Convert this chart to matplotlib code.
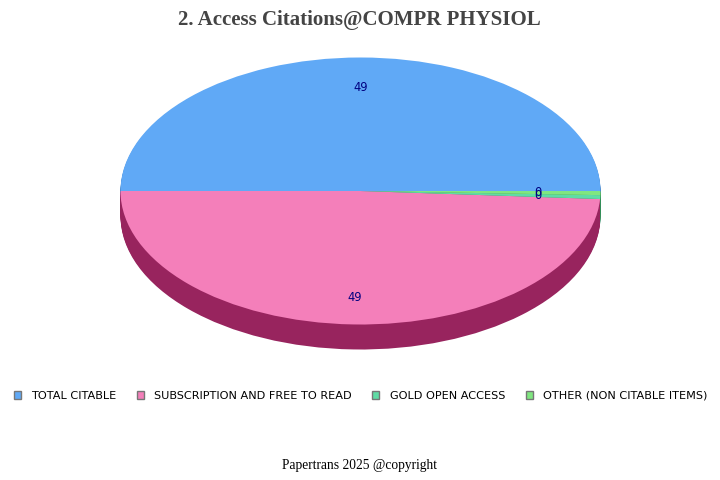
import matplotlib
matplotlib.use("Agg")
import matplotlib.pyplot as plt
from matplotlib.patches import Patch

categories = ["TOTAL CITABLE", "SUBSCRIPTION AND FREE TO READ", "GOLD OPEN ACCESS", "OTHER (NON CITABLE ITEMS)"]
values = [49.49, 48.54, 0.46, 0.49]
colors = ["#60A9F6", "#F47FBA", "#5FDCA5", "#80E680"]
rim_colors = ["#2F6AA8", "#98245E", "#2E8F66", "#3F9A3F"]
label_radius = [0.99, 1.02, 0.95, 0.95]
title = "2. Access Citations@COMPR PHYSIOL"
footer = "Papertrans 2025 @copyright"

W, H = 720, 480
CX, CY, RX, RY, DEPTH = 360.5, 191, 240, 133.5, 25

fig = plt.figure(figsize=(W / 100, H / 100), dpi=100)
ax = fig.add_axes([0, 0, 1, 1])

# extruded rim: stacked darker copies of the pie, lowest first
for d in range(DEPTH, 0, -1):
    ax.pie(values, colors=rim_colors, startangle=0, counterclock=True,
           center=(0, -d / RY), radius=1, frame=False)

_, _, autotexts = ax.pie(values, colors=colors, startangle=0, counterclock=True,
       center=(0, 0), radius=1, frame=False,
       autopct=lambda p: f"{p * sum(values) / 100:.0f}", pctdistance=0.78,
       textprops=dict(color="#000080", fontsize=8.3, family="DejaVu Sans"))
for t, f in zip(autotexts, label_radius):
    x, y = t.get_position()
    t.set_position((x * f, y * f))

ax.set_aspect("auto")
ax.set_xlim((0 - CX) / RX, (W - CX) / RX)
ax.set_ylim((CY - H) / RY, CY / RY)
ax.axis("off")

fig.text(359.5 / W, 1 - 19.5 / H, title, ha="center", va="center",
         family="Liberation Serif", fontweight="bold", fontsize=15, color="#444444")
fig.text(359.5 / W, 1 - 466 / H, footer, ha="center", va="center",
         family="Liberation Serif", fontsize=9.75, color="black")

handles = [Patch(facecolor=c, edgecolor="#777777", linewidth=1) for c in colors]
fig.legend(handles, categories, ncol=4, loc="center", bbox_to_anchor=(360.5 / W, 1 - 395.9 / H),
           frameon=False, fontsize=8.13, handlelength=0.62, handleheight=0.62,
           handletextpad=0.9, columnspacing=1.84, labelcolor="black")

fig.savefig("out.png", dpi=100)
